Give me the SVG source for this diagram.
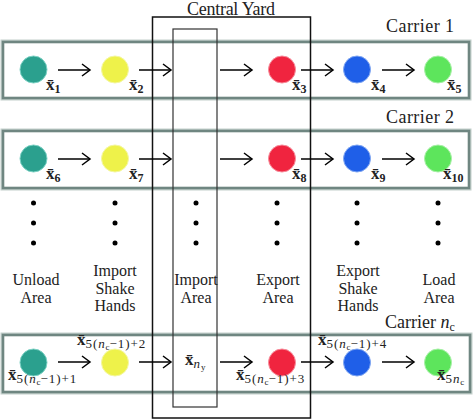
<svg xmlns="http://www.w3.org/2000/svg" width="474" height="420" viewBox="0 0 474 420">
<defs>
<marker id="ah" markerWidth="12" markerHeight="14" refX="10" refY="7" orient="auto" markerUnits="userSpaceOnUse">
<path d="M2,1 L10,7 L2,13" fill="none" stroke="#000" stroke-width="1.5"/>
</marker>
</defs>
<style>
.carrier{fill:#fff;stroke:#6f8681;stroke-width:2.6}
.carrierGlow{fill:none;stroke:#c3d0cc;stroke-width:5}
.yard{fill:none;stroke:#111;stroke-width:1.5}
.inner{fill:none;stroke:#333;stroke-width:1.2}
.arr{stroke:#000;stroke-width:1.5;fill:none;marker-end:url(#ah)}
.lab{font-family:"Liberation Serif",serif;font-weight:bold;font-size:17px;fill:#222}
.sub{font-size:12px}
.sub3{font-size:13px;letter-spacing:0.9px;font-weight:normal}
.ss{font-size:9px;letter-spacing:0}
.it{font-style:italic;font-weight:normal}
.area{font-family:"Liberation Serif",serif;font-size:16px;fill:#222;text-anchor:middle}
.title{font-family:"Liberation Serif",serif;font-size:18px;fill:#222}
.dot{fill:#000}
.teal{fill:#2ba08e;stroke:#7fd3c6;stroke-width:1}
.yellow{fill:#eef24a;stroke:#f4f7a0;stroke-width:1}
.red{fill:#f0243f;stroke:#f78a99;stroke-width:1}
.blue{fill:#1f5fe8;stroke:#7fa6f2;stroke-width:1}
.green{fill:#5de55c;stroke:#a6f0a5;stroke-width:1}
</style>
<rect width="474" height="420" fill="#fff"/>

<g id="carrier1">
<rect class="carrierGlow" x="3" y="42" width="466" height="56"/>
<rect class="carrier" x="3" y="42" width="466" height="56"/>
<text class="title" x="386" y="32" textLength="68" lengthAdjust="spacing">Carrier 1</text>
</g>
<g id="carrier2">
<rect class="carrierGlow" x="3" y="131" width="466" height="57"/>
<rect class="carrier" x="3" y="131" width="466" height="57"/>
<text class="title" x="386" y="123" textLength="68" lengthAdjust="spacing">Carrier 2</text>
</g>
<g id="carrierN">
<rect class="carrierGlow" x="3" y="335" width="467" height="57"/>
<rect class="carrier" x="3" y="335" width="467" height="57"/>
<text class="title" x="385" y="328">Carrier <tspan font-style="italic">n</tspan><tspan font-size="12px" dy="3">c</tspan></text>
</g>

<g id="centralYard">
<rect class="yard" x="152.5" y="17" width="158" height="401"/>
<rect class="inner" x="173" y="29" width="44" height="378"/>
<text class="title" x="231" y="15" text-anchor="middle" font-size="14.5px" textLength="88" lengthAdjust="spacing">Central Yard</text>
</g>

<g id="connectors">
<line class="arr" x1="58" y1="70" x2="90" y2="70"/>
<line class="arr" x1="139" y1="70" x2="171" y2="70"/>
<line class="arr" x1="220" y1="70" x2="252" y2="70"/>
<line class="arr" x1="301" y1="70" x2="333" y2="70"/>
<line class="arr" x1="382" y1="70" x2="414" y2="70"/>
<line class="arr" x1="58" y1="159" x2="90" y2="159"/>
<line class="arr" x1="139" y1="159" x2="171" y2="159"/>
<line class="arr" x1="220" y1="159" x2="252" y2="159"/>
<line class="arr" x1="301" y1="159" x2="333" y2="159"/>
<line class="arr" x1="382" y1="159" x2="414" y2="159"/>
<line class="arr" x1="58" y1="362" x2="90" y2="362"/>
<line class="arr" x1="139" y1="362" x2="171" y2="362"/>
<line class="arr" x1="220" y1="362" x2="252" y2="362"/>
<line class="arr" x1="301" y1="362" x2="333" y2="362"/>
<line class="arr" x1="382" y1="362" x2="414" y2="362"/>
</g>

<g id="row1">
<g id="x1"><circle class="teal" cx="33.5" cy="69.5" r="13.5"/><text class="lab" x="46" y="90">x̄<tspan class="sub" dy="3">1</tspan></text></g>
<g id="x2"><circle class="yellow" cx="115" cy="69.5" r="13.5"/><text class="lab" x="129" y="90">x̄<tspan class="sub" dy="3">2</tspan></text></g>
<g id="x3"><circle class="red" cx="282" cy="69.5" r="13.5"/><text class="lab" x="292" y="90">x̄<tspan class="sub" dy="3">3</tspan></text></g>
<g id="x4"><circle class="blue" cx="357" cy="69.5" r="13.5"/><text class="lab" x="371" y="90">x̄<tspan class="sub" dy="3">4</tspan></text></g>
<g id="x5"><circle class="green" cx="438" cy="69.5" r="13.5"/><text class="lab" x="447" y="90">x̄<tspan class="sub" dy="3">5</tspan></text></g>
</g>

<g id="row2">
<g id="x6"><circle class="teal" cx="33.5" cy="158.5" r="13.5"/><text class="lab" x="46" y="179">x̄<tspan class="sub" dy="3">6</tspan></text></g>
<g id="x7"><circle class="yellow" cx="115" cy="158.5" r="13.5"/><text class="lab" x="129" y="179">x̄<tspan class="sub" dy="3">7</tspan></text></g>
<g id="x8"><circle class="red" cx="282" cy="158.5" r="13.5"/><text class="lab" x="292" y="179">x̄<tspan class="sub" dy="3">8</tspan></text></g>
<g id="x9"><circle class="blue" cx="357" cy="158.5" r="13.5"/><text class="lab" x="371" y="179">x̄<tspan class="sub" dy="3">9</tspan></text></g>
<g id="x10"><circle class="green" cx="438" cy="158.5" r="13.5"/><text class="lab" x="443" y="179">x̄<tspan class="sub" dy="3">10</tspan></text></g>
</g>

<g id="ellipsis">
<circle class="dot" cx="33.5" cy="203" r="2.5"/><circle class="dot" cx="33.5" cy="223" r="2.5"/><circle class="dot" cx="33.5" cy="243" r="2.5"/>
<circle class="dot" cx="115" cy="203" r="2.5"/><circle class="dot" cx="115" cy="223" r="2.5"/><circle class="dot" cx="115" cy="243" r="2.5"/>
<circle class="dot" cx="196" cy="203" r="2.5"/><circle class="dot" cx="196" cy="223" r="2.5"/><circle class="dot" cx="196" cy="243" r="2.5"/>
<circle class="dot" cx="277" cy="203" r="2.5"/><circle class="dot" cx="277" cy="223" r="2.5"/><circle class="dot" cx="277" cy="243" r="2.5"/>
<circle class="dot" cx="357" cy="203" r="2.5"/><circle class="dot" cx="357" cy="223" r="2.5"/><circle class="dot" cx="357" cy="243" r="2.5"/>
<circle class="dot" cx="438" cy="203" r="2.5"/><circle class="dot" cx="438" cy="223" r="2.5"/><circle class="dot" cx="438" cy="243" r="2.5"/>
</g>

<g id="areaLabels">
<text class="area" x="36" y="285">Unload</text><text class="area" x="36" y="303">Area</text>
<text class="area" x="115" y="276">Import</text><text class="area" x="115" y="294">Shake</text><text class="area" x="115" y="311">Hands</text>
<text class="area" x="196" y="285">Import</text><text class="area" x="196" y="303">Area</text>
<text class="area" x="278" y="285">Export</text><text class="area" x="278" y="303">Area</text>
<text class="area" x="358" y="276">Export</text><text class="area" x="358" y="294">Shake</text><text class="area" x="358" y="311">Hands</text>
<text class="area" x="439" y="285">Load</text><text class="area" x="439" y="303">Area</text>
</g>

<g id="rowN">
<g id="xN1"><circle class="teal" cx="33.5" cy="362.5" r="13.5"/><text class="lab" x="8" y="380">x̄<tspan class="sub3" dy="3">5(<tspan class="it">n</tspan><tspan class="ss" dy="2">c</tspan><tspan dy="-2">−1)+1</tspan></tspan></text></g>
<g id="xN2"><circle class="yellow" cx="115" cy="362.5" r="13.5"/><text class="lab" x="77" y="345">x̄<tspan class="sub3" dy="3">5(<tspan class="it">n</tspan><tspan class="ss" dy="2">c</tspan><tspan dy="-2">−1)+2</tspan></tspan></text></g>
<g id="xNy"><text class="lab" x="185" y="365">x̄<tspan class="sub3" dy="3"><tspan class="it">n</tspan><tspan class="ss" dy="2">y</tspan></tspan></text></g>
<g id="xN3"><circle class="red" cx="282" cy="362.5" r="13.5"/><text class="lab" x="236" y="380">x̄<tspan class="sub3" dy="3">5(<tspan class="it">n</tspan><tspan class="ss" dy="2">c</tspan><tspan dy="-2">−1)+3</tspan></tspan></text></g>
<g id="xN4"><circle class="blue" cx="357" cy="362.5" r="13.5"/><text class="lab" x="318" y="345">x̄<tspan class="sub3" dy="3">5(<tspan class="it">n</tspan><tspan class="ss" dy="2">c</tspan><tspan dy="-2">−1)+4</tspan></tspan></text></g>
<g id="xN5"><circle class="green" cx="438" cy="362.5" r="13.5"/><text class="lab" x="437" y="380">x̄<tspan class="sub3" dy="3">5<tspan class="it">n</tspan><tspan class="ss" dy="2">c</tspan></tspan></text></g>
</g>
</svg>
